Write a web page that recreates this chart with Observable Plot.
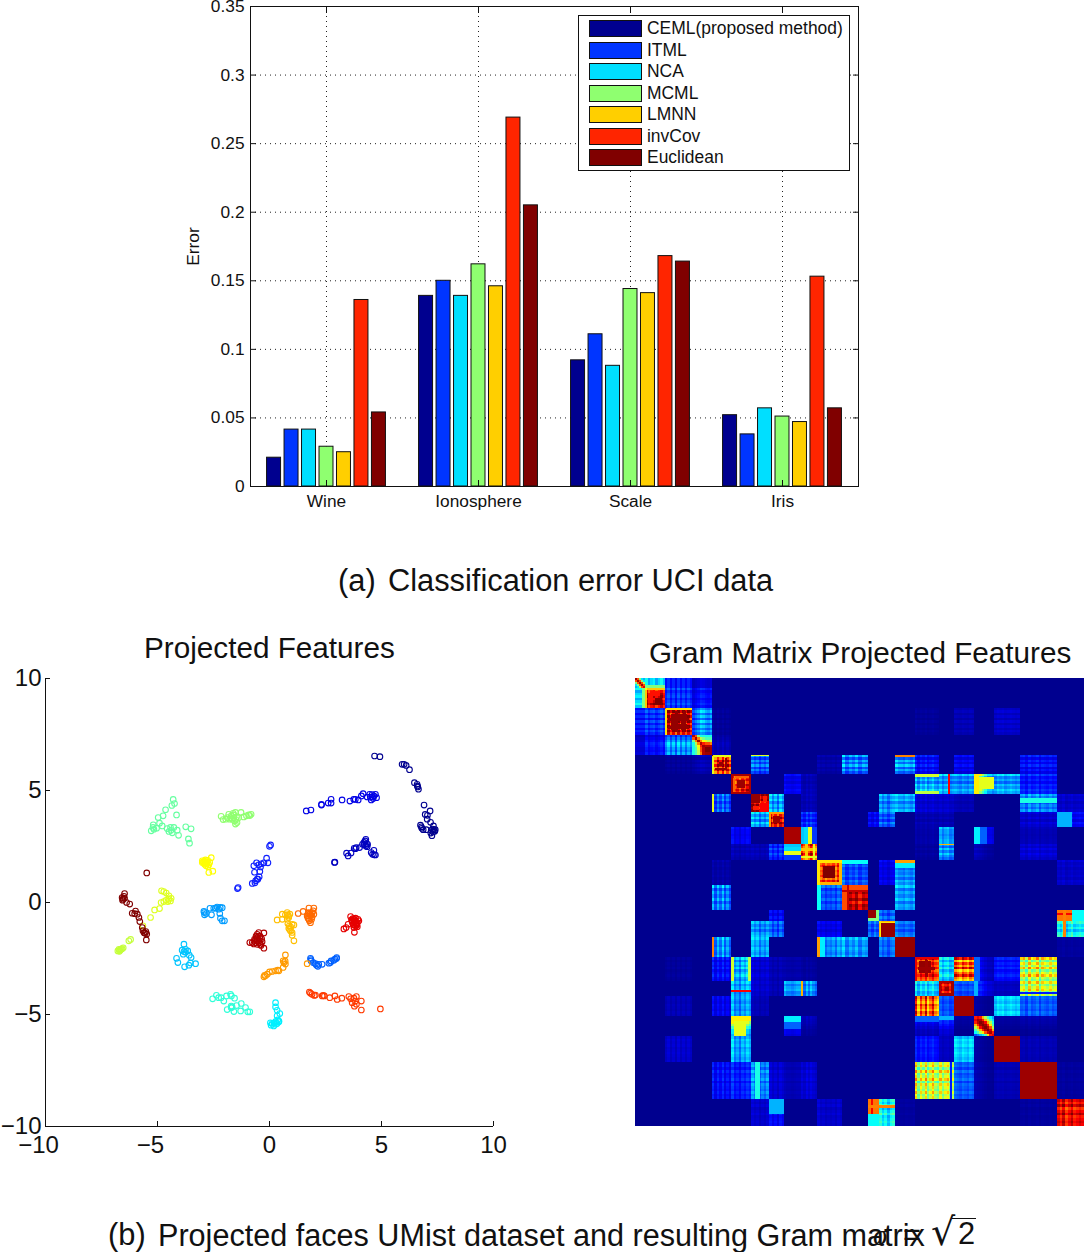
<!DOCTYPE html>
<html>
<head>
<meta charset="utf-8">
<script src="https://cdn.jsdelivr.net/npm/d3@7"></script>
<script src="https://cdn.jsdelivr.net/npm/@observablehq/plot@0.6"></script>
<style>
html,body{margin:0;padding:0;background:#fff}
#page{position:relative;width:1087px;height:1252px;overflow:hidden;font-family:"Liberation Sans",Arial,sans-serif;color:#111}
#page>*{position:absolute}
.t{white-space:nowrap;line-height:1}
svg{display:block;background:transparent!important}
</style>
</head>
<body>
<div id="page"></div>
<script>
// ---------- (a) bars ----------
const datasets = ["Wine", "Ionosphere", "Scale", "Iris"];
const methods = ["CEML(proposed method)", "ITML", "NCA", "MCML", "LMNN", "invCov", "Euclidean"];
const methodColors = ["#00008f", "#0035ff", "#00dfff", "#8fff70", "#ffcf00", "#ff2500", "#800000"];
const errWine = [0.021, 0.0415, 0.0415, 0.029, 0.025, 0.136, 0.054];
const errIonosphere = [0.139, 0.150, 0.139, 0.162, 0.146, 0.269, 0.205];
const errScale = [0.092, 0.111, 0.088, 0.144, 0.141, 0.168, 0.164];
const errIris = [0.052, 0.038, 0.057, 0.051, 0.047, 0.153, 0.057];
const errors = [errWine, errIonosphere, errScale, errIris];
const errTicks = [0, 0.05, 0.1, 0.15, 0.2, 0.25, 0.3, 0.35];
const groupPositions = [1, 2, 3, 4];
const barStep = 0.115, barWidth = 0.092;

const barRows = errors.flatMap((vals, g) => vals.map((v, m) => ({
  x1: groupPositions[g] + (m - 3) * barStep - barWidth / 2,
  x2: groupPositions[g] + (m - 3) * barStep + barWidth / 2,
  error: v, color: methodColors[m]
})));

// ---------- (b) projected features, one array per face class ----------
const c01 = [[4.69,6.54],[4.93,6.51],[5.92,6.17],[6.01,6.17],[6.1,6.12],[6.25,5.93],[6.47,5.35],[6.59,5.28],[6.62,5.16],[6.65,5.06],[6.6,5.2],[6.9,4.35],[7.17,4.09],[6.95,3.93],[7.05,3.89],[7.04,3.72],[7.19,3.58],[6.74,3.45],[6.8,3.31],[6.86,3.25],[6.78,3.38],[7,3.25],[7.22,3.22],[7.33,3.25],[7.4,3.25],[7.32,3.42],[7.2,3.1],[7.25,2.98],[7.28,3.28],[7.3,3.15],[7.38,3.18]];
const c02 = [[2.9,1.79],[2.92,1.8],[3.44,2.2],[3.51,2.08],[3.64,2.21],[3.78,2.42],[3.84,2.4],[3.87,2.45],[4.02,2.45],[4.15,2.6],[4.27,2.75],[4.33,2.63],[4.36,2.49],[4.3,2.52],[4.22,2.68],[4.38,2.6],[4.3,2.82],[4.24,2.58],[4.66,2.33],[4.54,2.23],[4.6,2.15],[4.73,2.12],[4.68,2.13]];
const c03 = [[1.64,4.09],[1.85,4.13],[2.32,4.38],[2.32,4.35],[2.62,4.44],[2.75,4.61],[2.75,4.44],[3.24,4.58],[3.59,4.53],[3.76,4.61],[3.83,4.6],[3.96,4.58],[4.1,4.76],[4.18,4.86],[4.36,4.71],[4.47,4.83],[4.54,4.58],[4.6,4.71],[4.73,4.83],[4.78,4.68],[4.66,4.76],[4.5,4.7],[4.58,4.82],[4.63,4.64]];
const c04 = [[0,2.51],[0.05,2.57],[-1.4,0.67],[-1.43,0.62],[-0.77,0.85],[-0.62,0.97],[-0.52,1.04],[-0.46,1.15],[-0.67,1.35],[-0.43,1.38],[-0.7,1.64],[-0.58,1.77],[-0.48,1.68],[-0.4,1.59],[-0.37,1.73],[-0.25,1.77],[-0.13,1.98],[-0.07,1.77],[-0.55,1.05],[-0.65,0.88]];
const c05 = [[1.83,-2.49],[1.86,-2.61],[1.95,-2.68],[2.05,-2.73],[2.16,-2.85],[2.2,-2.76],[2.35,-2.76],[2.65,-2.71],[2.75,-2.61],[2.87,-2.58],[2.99,-2.5],[2.92,-2.53],[1.85,-2.55],[2.1,-2.8],[2.72,-2.68],[3.0,-2.46]];
const c06 = [[-2.93,-0.4],[-2.9,-0.55],[-2.82,-0.49],[-2.66,-0.26],[-2.59,-0.55],[-2.49,-0.26],[-2.34,-0.2],[-2.27,-0.3],[-2.11,-0.23],[-2.22,-0.49],[-2.19,-0.7],[-2.01,-0.82],[-2.11,-0.82],[-2.9,-0.45],[-2.4,-0.25],[-2.2,-0.22]];
const c07 = [[-3.82,-1.86],[-3.9,-2.13],[-3.82,-2.19],[-3.75,-2.09],[-3.65,-2.16],[-3.85,-2.31],[-3.5,-2.46],[-4.15,-2.49],[-4.09,-2.68],[-3.79,-2.87],[-3.6,-2.8],[-3.53,-2.7],[-3.3,-2.73],[-3.75,-2.22],[-3.58,-2.35]];
const c08 = [[0.27,-4.47],[0.27,-4.66],[0.34,-4.81],[0.46,-4.96],[0.34,-5.06],[0.42,-5.29],[0.27,-5.32],[0.12,-5.4],[0.07,-5.48],[0.19,-5.51],[0.34,-5.4],[0.27,-5.43],[0.42,-5.32],[0.04,-5.37],[0.2,-5.38],[0.37,-5.24]];
const c09 = [[-2.54,-4.3],[-2.37,-4.14],[-2.27,-4.25],[-2.16,-4.25],[-2.04,-4.4],[-1.92,-4.17],[-1.74,-4.1],[-1.7,-4.17],[-1.56,-4.27],[-1.89,-4.78],[-1.71,-4.62],[-1.67,-4.66],[-1.59,-4.87],[-1.47,-4.6],[-1.29,-4.84],[-1.26,-4.51],[-1.07,-4.69],[-0.97,-4.88],[-0.88,-4.88],[-1.71,-4.7]];
const c10 = [[-4.3,4.6],[-4.24,4.42],[-4.36,4.33],[-4.64,4.14],[-4.75,3.87],[-4.97,3.79],[-4.15,3.91],[-4.91,3.54],[-5.19,3.47],[-4.79,3.42],[-5.04,3.32],[-5.28,3.2],[-5.16,3.27],[-4.57,3.3],[-4.42,3.35],[-4.27,3.35],[-4.12,3.23],[-4.49,3.17],[-4.34,3.11],[-4.06,3.0],[-3.74,3.38],[-3.5,3.29],[-3.62,2.84],[-3.57,2.65],[-5.2,3.35],[-4.4,3.22]];
const c11 = [[-2.16,3.85],[-2.07,3.7],[-1.89,3.79],[-1.82,3.94],[-1.74,3.79],[-1.67,3.72],[-1.59,3.91],[-1.52,4.02],[-1.47,3.82],[-1.56,3.64],[-1.52,3.5],[-1.45,3.57],[-1.37,3.79],[-1.27,4.02],[-1.15,3.82],[-1.03,3.87],[-0.93,3.91],[-0.82,3.94],[-1.95,3.72],[-1.7,3.88],[-1.6,3.78],[-1.5,3.7],[-1.78,3.72],[-1.62,3.98],[-0.88,3.88]];
const c12 = [[-6.68,-2.13],[-6.77,-2.16],[-6.62,-2.09],[-6.72,-2.09],[-6.58,-2.06],[-6.53,-2.02],[-6.65,-2.1],[-6.7,-2.18],[-6.28,-1.71],[-6.2,-1.65]];
const c13 = [[-4.82,0.52],[-4.72,0.49],[-4.61,0.42],[-4.49,0.3],[-4.39,0.19],[-4.42,0.07],[-4.54,0.04],[-4.72,0.04],[-4.84,0],[-5.13,-0.33],[-4.91,-0.27],[-5.31,-0.67],[-5.65,-1.04],[-4.5,0.15],[-4.62,0.1]];
const c14 = [[-3.0,1.86],[-2.93,1.79],[-2.86,1.9],[-2.78,1.79],[-2.71,1.68],[-2.6,2.0],[-2.75,1.6],[-2.67,1.79],[-2.71,1.34],[-2.53,1.4],[-2.9,1.71],[-2.83,1.64],[-3.0,1.79],[-2.88,1.84],[-2.8,1.72],[-2.95,1.82],[-2.84,1.78],[-2.76,1.88]];
const c15 = [[0.34,-0.78],[0.57,-0.52],[0.57,-0.75],[0.71,-0.55],[0.79,-0.45],[0.91,-0.52],[0.86,-0.67],[0.79,-0.75],[0.82,-0.94],[1.01,-0.97],[1.09,-1],[0.86,-1.15],[0.94,-1.27],[1.01,-1.34],[1.01,-1.46],[1.09,-1.71],[0.8,-0.55],[0.88,-1.05],[0.95,-1.1],[0.9,-1.2],[0.85,-0.6]];
const c16 = [[-0.25,-3.32],[-0.18,-3.27],[-0.1,-3.2],[0,-3.1],[0.12,-3.08],[0.27,-3.05],[0.37,-3.02],[0.42,-3.05],[0.61,-2.9],[0.64,-2.68],[0.71,-2.75],[0.61,-2.6],[0.71,-2.34],[1.68,-2.73],[-0.22,-3.25],[0.7,-2.62]];
const c17 = [[1.28,-0.49],[1.5,-0.4],[1.76,-0.25],[1.98,-0.25],[1.76,-0.45],[1.91,-0.45],[1.83,-0.6],[1.68,-0.6],[1.76,-0.75],[1.88,-0.75],[1.83,-0.9],[1.98,-0.52],[1.95,-0.37],[1.8,-0.52],[1.72,-0.7],[1.85,-0.55],[1.9,-0.65],[1.78,-0.82],[1.72,-0.5]];
const c18 = [[1.83,-4.05],[1.9,-4.1],[2.05,-4.13],[2.35,-4.17],[2.45,-4.17],[2.69,-4.25],[2.92,-4.17],[3.02,-4.33],[3.23,-4.27],[3.54,-4.2],[3.62,-4.3],[3.77,-4.27],[3.88,-4.2],[3.83,-4.4],[3.69,-4.47],[3.88,-4.54],[3.79,-4.63],[4.1,-4.4],[4.1,-4.8],[4.95,-4.75],[1.78,-4.0],[2.0,-4.15],[2.4,-4.15]];
const c19 = [[3.62,-0.63],[3.77,-0.75],[3.84,-0.82],[3.69,-0.82],[3.77,-0.97],[3.92,-0.9],[3.99,-0.82],[3.84,-0.7],[3.51,-0.97],[3.32,-1.18],[3.42,-1.12],[3.77,-1.12],[3.79,-1.33],[3.7,-0.9],[3.8,-0.88],[3.9,-1.0],[3.85,-1.05],[3.72,-0.72],[3.95,-0.75],[3.75,-1.0],[3.88,-0.95],[3.66,-0.78],[3.8,-0.78],[3.92,-1.08]];
const c20 = [[-0.77,-1.79],[-0.88,-1.79],[-0.67,-1.64],[-0.55,-1.42],[-0.48,-1.34],[-0.25,-1.36],[-0.25,-2.04],[-0.55,-1.57],[-0.48,-1.72],[-0.62,-1.79],[-0.4,-1.87],[-0.33,-1.75],[-0.55,-1.87],[-0.6,-1.5],[-0.5,-1.5],[-0.42,-1.6],[-0.35,-1.62],[-0.65,-1.7],[-0.55,-1.7],[-0.45,-1.8],[-0.58,-1.62],[-0.42,-1.5],[-0.7,-1.85],[-0.38,-1.92]];
const c21 = [[-6.47,0.4],[-6.58,0.22],[-6.54,0.15],[-6.47,0.19],[-6.38,0],[-6.24,-0.07],[-6.5,0.28],[-6.56,0.1],[-5.48,1.32],[-5.98,-0.38],[-6.13,-0.48],[-5.9,-0.52],[-5.83,-0.67],[-5.79,-0.85],[-5.68,-1.12],[-5.65,-1.26],[-5.55,-1.37],[-5.48,-1.41],[-5.5,-1.67],[-5.6,-1.35],[-5.52,-1.3],[-6.02,-0.5]];
const faceClasses = [c01,c02,c03,c04,c05,c06,c07,c08,c09,c10,c11,c12,c13,c14,c15,c16,c17,c18,c19,c20,c21];
const faceColors = ["#00008f","#0000bf","#0000e6","#0f1fff","#0060ff","#009cff","#00c4ff","#00f0ff","#30ffd8","#66ffa0","#90ff70","#c4ff3a","#deff20","#ffff00","#ffbf00","#ff9a00","#ff6a00","#ff3a00","#e60000","#b00000","#800000"];
const pointRows = faceClasses.flatMap((pts, i) => pts.map(([x, y]) => ({x, y, color: faceColors[i]})));
const axisTicks = [-10, -5, 0, 5, 10];
const negativeTicks = [-10, -5];
const otherTicks = [0, 5, 10];
const minus = v => String(v).replace("-", "\u2212");

// ---------- (b) Gram matrix, read block by block ----------
const edges = [0,10,30,57,77,96,116,134,149,166,182,207,233,244,260,280,304,319,339,359,385,422,449];
const diagonal = [.35,.9,.88,.9,.88,.86,.9,.9,.96,.85,.82,.93,.98,.98,.98,.85,.85,.97,.45,.97,.97,.88];
const flatDiagonal = [0,3,8,12,13,14,17,18,19,20];
// upper triangle: [row block, column block, value]
const blockLinks = [
 [0,1,.34],[0,2,.14],[0,3,.08],
 [1,2,.17],[1,3,.13],
 [2,3,.25],[3,4,.05],[2,4,.025],[2,15,.025],[2,17,.05],[2,19,.07],
 [4,6,.21],[4,11,.25],[4,14,.27],[4,15,.13],[4,17,.11],[4,20,.13],[4,10,.04],
 [5,8,.11],[5,9,.05],[5,15,.31],[5,16,.28],[5,17,.27],[5,18,.52],[5,19,.29],[5,20,.15],
 [6,7,.28],[6,13,.25],[6,14,.27],[6,15,.08],[6,16,.07],[6,17,.05],[6,20,.24],[6,21,.07],[6,9,.05],
 [7,9,.16],[7,12,.12],[7,13,.21],[7,15,.05],[7,16,.05],[7,20,.08],[7,21,.12],
 [8,9,.36],[8,16,.26],[8,18,.19],[8,20,.05],[8,15,.04],
 [9,16,.25],[9,18,.05],[9,20,.08],[9,15,.03],
 [10,11,.2],[10,13,.1],[10,14,.26],[10,21,.07],
 [11,14,.27],[12,13,.21],[13,14,.22],[12,21,.6],[13,21,.36],
 [15,16,.32],[15,17,.78],[15,18,.11],[15,19,.14],[15,20,.58],
 [16,17,.19],[16,18,.15],[16,19,.06],[16,20,.55],
 [17,18,.03],[17,19,.33],[17,20,.21],
 [18,19,.03],[18,20,.04],[19,20,.05],[20,21,.03],[14,21,.03]
];
// hand-read stripe profile of each block (multipliers across the block)
const profiles = [
 [1,1,1],[1.2,.8,1,1.1,.8,1,1.2,.9],[.9,1.3,.8,1.2,.7,1.3,.8,1.2,.8,1.2,.9],[.6,.8,1,1.3,1.2,1,.9,1.1],
 [1.3,.7,1.2,.8,1.3,.7,1.1,.7],[1.3,.8,1,.7,1.1,.9,1.2,1],[1.3,1,1.2,.8,1.1,.9,1.2],[1.2,.8,1.1,.7,1.2,.9],
 [1.2,1,1,.9,1,1.1,1.1],[1.1,.8,1.3,.9,1.3,1,.8],[1.3,.9,1.1,.8,1,.9,1.1,.8,1.2,1],[1.3,.8,1.1,.9,1.2,.8,1.1,1],
 [1.1,.8,1.2,.9],[1.2,.9,1.1,.8,1.1,1.2],[1.2,1,1,.9,1.1,1,.9,1.1],[1.2,.8,1.1,.9,1.2,.8,1,1.2,.9,.8],
 [1.2,.9,1.1,1.2,.9,1],[1.1,1,.9,1.1,1,.9,1.1,1],[1.3,1.1,1,.8,.6,.4,.4,.3],[.9,1.1,1,1.1,.9,1,1.1,1,.9,1],
 [1,1.1,.8,1.2,.9,1,1.2,.8,1.1,1,.9,1.1,.9,1],[1.1,.9,1.2,.8,1,1.2,.9,1,1.1,1]
];
// diagonal blocks whose inner pattern was read as a small grid: [first edge index, grid]
const patches = [
 [0, [[.97,.8,.5,.35,.3],[.8,.97,.8,.5,.35],[.5,.8,.97,.8,.55],[.35,.5,.8,.97,.8],[.3,.35,.55,.8,.9]]],
 [3, [[.95,.8,.5,.4,.4,.4,.4,.4],[.8,.97,.75,.55,.5,.45,.45,.45],[.5,.75,.97,.75,.62,.6,.55,.55],[.4,.55,.75,.95,.85,.8,.8,.75],[.4,.5,.62,.85,.97,.95,.95,.95],[.4,.45,.6,.8,.95,1,1,.97],[.4,.45,.55,.8,.95,1,1,.97],[.4,.45,.55,.75,.95,.97,.97,.97]]],
 [18,[[.85,.9,.85,.7,.55,.45,.38,.3],[.9,.97,.95,.85,.7,.55,.45,.35],[.85,.95,1,.97,.88,.7,.55,.4],[.7,.85,.97,1,.97,.85,.65,.45],[.55,.7,.88,.97,1,.95,.8,.55],[.45,.55,.7,.85,.95,1,.92,.7],[.38,.45,.55,.65,.8,.92,.97,.85],[.2,.25,.3,.35,.45,.65,.85,.9]]]
];
// fine structure: [col1, col2, row1, row2, value], upper triangle
const details = [
 [10,30,7,10,.5],[10,12,10,30,.62],[12,30,10,12,.68],
 [20,27,20,27,1],[13,18,15,25,.86],
 [31,57,30,32,.65],[30,32,31,57,.65],
 [36,40,36,52,.98],[46,50,36,52,.98],[33,54,40,43,.98],[33,54,48,51,.98],
 [78,96,77,79,.65],[77,79,79,96,.6],[84,88,84,88,.98],[80,92,90,92,.98],
 [102,110,102,110,.97],[96,116,96,98,.96],[96,116,114,116,.96],[98,100,100,114,.78],
 [116,125,116,125,.98],[125,134,125,134,.88],[128,132,118,124,.85],
 [134,149,134,136,.72],[134,136,136,149,.72],[138,145,138,145,.97],
 [116,134,77,78.5,.6],[260,280,77,79,.75],
 [173,177,149,166,.6],[169,173,149,166,.34],[177,182,149,166,.18],[166,169,149,166,.32],
 [166,182,170,173,.68],[166,182,178,180,.6],
 [188,200,188,200,1],[182,207,182,185,.65],[182,185,182,207,.65],[204,207,185,207,.7],
 [207,233,207,212,.8],[207,233,212,214,.93],
 [260,280,182,185,.72],[260,280,185,190,.36],[207,233,182,186,.38],
 [233,244,241,244,.5],[244,246,244,260,.65],[246,260,244,245,.7],
 [280,304,280,282,.9],[284,296,284,296,.98],[283,300,290,293,.97],
 [304,319,304,306,.95],[310,314,310,314,.98],[304,319,316,319,.97],
 [313,315,96,116,.88],[280,304,96,99,.58],[280,304,113,116,.56],[339,359,99,111,.6],[339,344,96,116,.64],
 [422,437,233,244,.76],[422,437,236,238,.88],[437,449,233,244,.38],[428,431,233,260,.75],
 [304,319,166,167.5,.7],[339,345,149,166,.36],[345,352,149,166,.22],
 [385,422,315,317,.15],[385,422,120,125,.4],
 [422,437,134,149,.3],
 [339,345,280,304,.22],[339,343,304,319,.3]
];
const jetStops = [0,.125,.375,.625,.875,1];
const jetColors = ["#000080","#0000ff","#00ffff","#ffff00","#ff0000","#800000"];

const matRows = [];
function addCell(x1,x2,y1,y2,v){ matRows.push({x1,x2,y1,y2,v}); }
function addMirrored(x1,x2,y1,y2,v){ addCell(x1,x2,y1,y2,v); addCell(y1,y2,x1,x2,v); }
function addTextured(i,j,v){
  const pc = profiles[j], pr = profiles[i];
  const cw = (edges[j+1]-edges[j])/pc.length, rh = (edges[i+1]-edges[i])/pr.length;
  const amp = i===j ? .35 : .75;
  pr.forEach((mr,r)=>pc.forEach((mc,c)=>{
    addMirrored(edges[j]+c*cw, edges[j]+(c+1)*cw, edges[i]+r*rh, edges[i]+(r+1)*rh, v*(1-amp+amp*mr)*(1-amp+amp*mc));
  }));
}
addCell(0,449,0,449,.015);
diagonal.forEach((v,i)=>{
  if(flatDiagonal.includes(i)) addCell(edges[i],edges[i+1],edges[i],edges[i+1],v);
  else addTextured(i,i,v);
});
blockLinks.forEach(([i,j,v])=>addTextured(i,j,v));
details.forEach(([x1,x2,y1,y2,v])=>addMirrored(x1,x2,y1,y2,v));
patches.forEach(([i,grid])=>{
  const s=(edges[i+1]-edges[i])/grid.length;
  grid.forEach((row,r)=>row.forEach((v,c)=>addCell(edges[i]+c*s,edges[i]+(c+1)*s,edges[i]+r*s,edges[i]+(r+1)*s,v)));
});

// ---------- drawing ----------
const page = document.getElementById("page");
function place(el,left,top){ el.style.left=left+"px"; el.style.top=top+"px"; page.appendChild(el); return el; }
function label(text,left,top,size,extra){
  const s=document.createElement("div"); s.className="t"; s.textContent=text; s.style.fontSize=size+"px";
  if(extra) Object.assign(s.style,extra);
  return place(s,left,top);
}
const font = '"Liberation Sans",Arial,sans-serif';
const gridDash = "1,4";
const noText = () => "";

const barPlot = Plot.plot({
  width: 740, height: 520, marginLeft: 100, marginRight: 32, marginTop: 6, marginBottom: 34,
  style: {fontFamily: font, fontSize: "17.3px", color: "#111", background: "transparent", overflow: "visible"},
  x: {domain: [0.5, 4.5]},
  y: {domain: [0, 0.35]},
  marks: [
    Plot.gridY(errTicks, {stroke: "#222", strokeOpacity: 1, strokeDasharray: gridDash}),
    Plot.gridX(groupPositions, {stroke: "#222", strokeOpacity: 1, strokeDasharray: gridDash}),
    Plot.rectY(barRows, {x1: "x1", x2: "x2", y: "error", fill: "color", stroke: "#111", strokeWidth: 1}),
    Plot.axisY({ticks: errTicks, tickFormat: d => String(d), tickSize: -6, tickPadding: 12, stroke: "#111", label: "Error", labelAnchor: "center", labelArrow: "none", labelOffset: 64}),
    Plot.axisY({anchor: "right", ticks: errTicks, tickFormat: noText, tickSize: -6, stroke: "#111", label: null}),
    Plot.axisX({ticks: groupPositions, tickFormat: i => datasets[i - 1], tickSize: -6, tickPadding: 14, stroke: "#111", label: null}),
    Plot.axisX({anchor: "top", ticks: groupPositions, tickFormat: noText, tickSize: -6, stroke: "#111", label: null}),
    Plot.frame({stroke: "#111"})
  ]
});
place(barPlot,150,0);

const leg=document.createElement("div");
Object.assign(leg.style,{width:"270px",height:"154px",border:"1px solid #111",background:"#fff"});
place(leg,578,15);
const legY=[28,50,71,93,114,136,157];
methods.forEach((m,i)=>{
  const sw=document.createElement("div");
  Object.assign(sw.style,{width:"51px",height:"15px",border:"1px solid #111",background:methodColors[i]});
  place(sw,589,legY[i]-8);
  label(m,647,legY[i]-8,17.45);
});

label("(a)",338,566,30.8);
label("Classification error UCI data",388,566,30.8);

const scatter = Plot.plot({
  width: 520, height: 520, marginLeft: 45, marginRight: 27, marginTop: 18, marginBottom: 54,
  style: {fontFamily: font, fontSize: "24px", color: "#111", background: "transparent", overflow: "visible"},
  x: {domain: [-10, 10]},
  y: {domain: [-10, 10]},
  marks: [
    Plot.dot(pointRows, {x: "x", y: "y", r: 2.8, stroke: "color", strokeWidth: 1.1, fill: "none"}),
    Plot.ruleX([-10], {stroke: "#111"}),
    Plot.ruleY([-10], {stroke: "#111"}),
    Plot.axisY({ticks: axisTicks, tickFormat: minus, tickSize: -5, tickPadding: 9, stroke: "#111", label: null}),
    Plot.axisX({ticks: axisTicks, tickFormat: noText, tickSize: -5, stroke: "#111", label: null}),
    Plot.text(negativeTicks, {x: d => d, text: d => minus(d), frameAnchor: "bottom", dy: 26, dx: -7, fontSize: 24, fill: "#111"}),
    Plot.text(otherTicks, {x: d => d, text: d => minus(d), frameAnchor: "bottom", dy: 26, fontSize: 24, fill: "#111"})
  ]
});
place(scatter,0,660);
label("Projected Features",144,633,29.7);
label("Gram Matrix Projected Features",649,638,29.7);

const heat = Plot.plot({
  width: 449, height: 448, margin: 0,
  style: {background: "transparent"},
  x: {domain: [0, 449], axis: null},
  y: {domain: [0, 449], reverse: true, axis: null},
  color: {type: "linear", domain: jetStops, range: jetColors, clamp: true},
  marks: [
    Plot.rect(matRows, {x1: "x1", x2: "x2", y1: "y1", y2: "y2", fill: "v", shapeRendering: "crispEdges"})
  ]
});
heat.style.filter = "blur(0.6px)";
place(heat,635,678);

label("(b)",108,1220,30.8);
label("Projected faces UMist dataset and resulting Gram matrix",158,1220,30.6);
label("\u03C3",873,1220,30,{fontFamily:'"Liberation Serif",serif',fontStyle:"italic"});
label("=",903,1220,30.8);
label("\u221A",931,1213,38,{fontFamily:'"DejaVu Sans",sans-serif'});
label("2",952,1220,30.8,{borderTop:"1.5px solid #111",paddingLeft:"6px",paddingRight:"1px",marginTop:"-2px"});
</script>
</body>
</html>
